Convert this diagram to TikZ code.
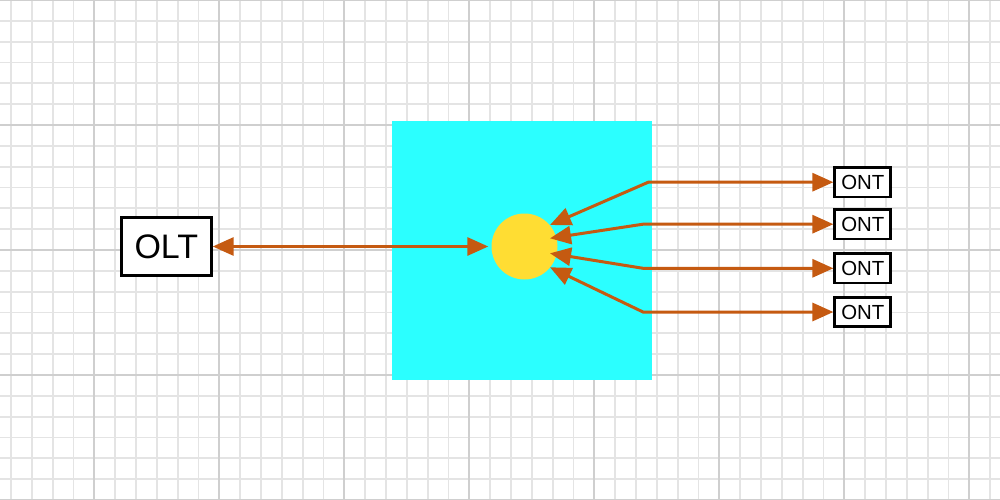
\documentclass[tikz,border=0pt]{standalone}
\usepackage{fontspec}
\setmainfont{Liberation Sans}
\usetikzlibrary{arrows.meta}
\definecolor{gridminor}{HTML}{E4E4E4}
\definecolor{gridmajor}{HTML}{CFCFCF}
\definecolor{boxcyan}{HTML}{2BFFFF}
\definecolor{sunyellow}{HTML}{FFDD33}
\definecolor{connorange}{HTML}{C55A11}
\tikzset{
  minorline/.style={draw=gridminor, line width=1.8pt},
  majorline/.style={draw=gridmajor, line width=2pt},
  devbox/.style={draw=black, line width=2.8pt, fill=white, inner sep=0pt},
  conn/.style={draw=connorange, line width=3pt,
    {Triangle[length=21pt,width=18pt]}-{Triangle[length=21pt,width=18pt]}},
}
\begin{document}
\begin{tikzpicture}[x=1pt,y=-1pt]
\useasboundingbox (0,0) rectangle (1000,500);
\fill[white] (0,0) rectangle (1000,500);
% grid
\foreach \i in {-4,...,43} {
  \draw[minorline] ({94.33+20.833*\i},0) -- ({94.33+20.833*\i},500);
}
\foreach \j in {0,...,24} {
  \draw[minorline] (0,{20.833*\j}) -- (1000,{20.833*\j});
}
\foreach \i in {-1,...,7} {
  \draw[majorline] ({94.33+125*\i},0) -- ({94.33+125*\i},500);
}
\foreach \j in {0,...,4} {
  \draw[majorline] (0,{125*\j}) -- (1000,{125*\j});
}
% cyan square and circle
\node[fill=boxcyan, minimum width=259.5pt, minimum height=258.5pt, inner sep=0pt] (sq) at (521.75,250.25) {};
\node[circle, fill=sunyellow, minimum size=66pt, inner sep=0pt] (circ) at (524.5,246.5) {};
% devices
\node[devbox, minimum width=90pt, minimum height=57.5pt, font=\fontsize{34}{40}\selectfont] (olt) at (166.3,246.5) {OLT};
\node[devbox, minimum width=56pt, minimum height=29.5pt, font=\fontsize{20.4}{24}\selectfont] (ont1) at (862.8,182.2) {ONT};
\node[devbox, minimum width=56pt, minimum height=29.5pt, font=\fontsize{20.4}{24}\selectfont] (ont2) at (862.8,224.2) {ONT};
\node[devbox, minimum width=56pt, minimum height=29.5pt, font=\fontsize{20.4}{24}\selectfont] (ont3) at (862.8,268.3) {ONT};
\node[devbox, minimum width=56pt, minimum height=29.5pt, font=\fontsize{20.4}{24}\selectfont] (ont4) at (862.8,312) {ONT};
% connector endpoints at the splitter
\coordinate (t1) at (550,225);
\coordinate (t2) at (550,238.3);
\coordinate (t3) at (550,253.3);
\coordinate (t4) at (550,267.3);
\coordinate (bxa) at (648.3,0);
\coordinate (bxb) at (643,0);
% connectors
\draw[conn, shorten >=3pt] (olt.east) -- (circ.west);
\draw[conn] (t1) -- (ont1.west -| bxa) -- (ont1.west);
\draw[conn] (t2) -- (ont2.west -| bxb) -- (ont2.west);
\draw[conn] (t3) -- (ont3.west -| bxb) -- (ont3.west);
\draw[conn] (t4) -- (ont4.west -| bxb) -- (ont4.west);
\end{tikzpicture}
\end{document}
